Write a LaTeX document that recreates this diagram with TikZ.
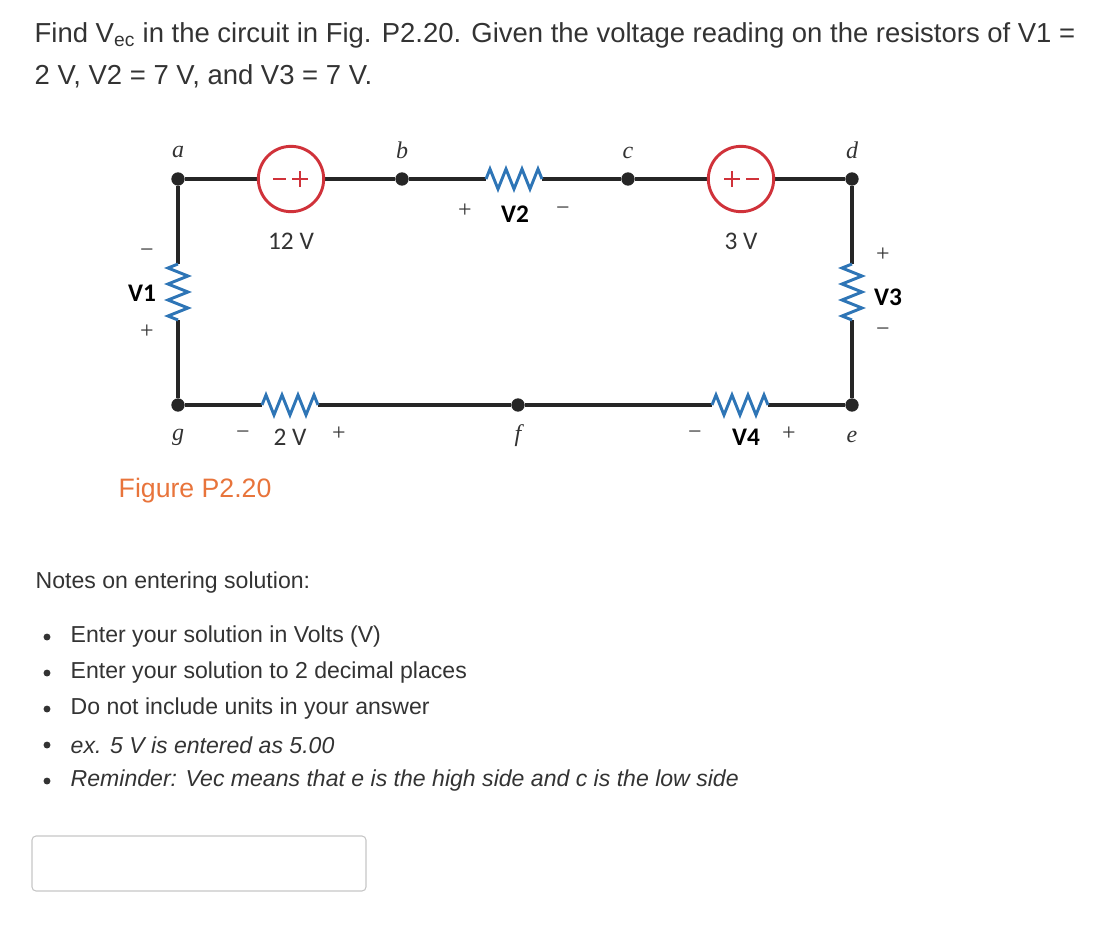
\documentclass[tikz,border=0pt]{standalone}
\usepackage{fontspec}
\setmainfont{Liberation Sans}
\newfontfamily\calib{Carlito}
\newfontfamily\serf{Liberation Serif}
\definecolor{wire}{HTML}{262626}
\definecolor{src}{HTML}{D0323A}
\definecolor{res}{HTML}{2E75B6}
\definecolor{fig}{HTML}{E8743B}
\definecolor{txt}{HTML}{333333}
\newcommand\myhres[1]{\draw[zig] (#1) -- ++(4,-10) -- ++(8,20) -- ++(8,-20) -- ++(8,20) -- ++(8,-20) -- ++(8,20) -- ++(8,-20) -- ++(4,10);}
\newcommand\myvres[1]{\draw[zig] (#1) -- ++(-10,4) -- ++(20,8) -- ++(-20,8) -- ++(20,8) -- ++(-20,8) -- ++(20,8) -- ++(-20,8) -- ++(10,4);}
\begin{document}
\begin{tikzpicture}[x=0.75pt,y=-0.75pt,
  wireline/.style={draw=wire,line width=2.6pt},
  dot/.style={circle,fill=wire,inner sep=0pt,minimum size=10pt},
  srcc/.style={circle,draw=src,line width=2.2pt,minimum size=49pt,inner sep=0pt,fill=white},
  zig/.style={draw=res,line width=2.2pt,line join=miter},
  lbl/.style={font=\serf\itshape\fontsize{18}{18}\selectfont,text=txt},
  clab/.style={font=\calib\fontsize{19}{19}\selectfont,text=txt},
  blab/.style={font=\calib\bfseries\fontsize{19}{19}\selectfont,text=black},
  pm/.style={font=\serf\fontsize{18}{18}\selectfont,text=txt},
  body/.style={anchor=west,font=\fontsize{17.3}{17.3}\selectfont,text=txt},
]
\useasboundingbox (0,0) rectangle (1108,926);
% title
\node[anchor=west,font=\fontsize{20.6}{20.6}\selectfont,text=txt] (t1) at (30,35) {Find V\textsubscript{ec} in the circuit in Fig. P2.20. Given the voltage reading on the resistors of V1 =};
\node[anchor=west,font=\fontsize{20.6}{20.6}\selectfont,text=txt] (t2) at (30,76) {2 V, V2 = 7 V, and V3 = 7 V.};
% nodes
\node[dot] (a) at (178,179) {};
\node[dot] (b) at (402,179) {};
\node[dot] (c) at (628,179) {};
\node[dot] (d) at (852,179) {};
\node[dot] (g) at (178,405) {};
\node[dot] (f) at (518,405) {};
\node[dot] (e) at (852,405) {};
\coordinate (r2a) at (486,179); \coordinate (r2b) at (542,179);
\coordinate (r1a) at (178,264); \coordinate (r1b) at (178,320);
\coordinate (r3a) at (852,264); \coordinate (r3b) at (852,320);
\coordinate (r5a) at (262,405); \coordinate (r5b) at (318,405);
\coordinate (r4a) at (712,405); \coordinate (r4b) at (768,405);
% wires
\draw[wireline] (a) -- (b) -- (r2a) (r2b) -- (c) -- (d) -- (r3a) (r3b) -- (e) -- (r4b) (r4a) -- (f) -- (r5b) (r5a) -- (g) -- (r1b) (r1a) -- (a);
% resistors
\myhres{r2a}
\myhres{r5a}
\myhres{r4a}
\myvres{r1a}
\myvres{r3a}
% sources
\node[srcc] (s12) at (291,179) {};
\draw[src,line width=1.6pt] (273,179) -- (286,179) (292,179) -- (308,179) (300,171) -- (300,187);
\node[srcc] (s3) at (741,179) {};
\draw[src,line width=1.6pt] (724,179) -- (740,179) (732,171) -- (732,187) (746,179) -- (759,179);
% labels
\node[lbl] (la) at (178,152) {a};
\node[lbl] (lb) at (402,150) {b};
\node[lbl] (lc) at (628,153) {c};
\node[lbl] (ld) at (852,150) {d};
\node[lbl] (lg) at (178,437) {g};
\node[lbl] (lf) at (518,436) {f};
\node[lbl] (le) at (852,437) {e};
\node[clab] (v12) at (291,241) {12 V};
\node[clab] (v3) at (741,241) {3 V};
\node[pm] at (465,211) {+};
\node[blab] (lv2) at (515,214) {V2};
\node[pm] at (563,211) {\textminus};
\node[pm] at (147,253) {\textminus};
\node[blab] (lv1) at (142,293) {V1};
\node[pm] at (147,332) {+};
\node[pm] at (883,255) {+};
\node[blab] (lv3) at (888,297) {V3};
\node[pm] at (883,332) {\textminus};
\node[pm] at (243,435) {\textminus};
\node[clab] (v2v) at (290,437) {2 V};
\node[pm] at (339,434) {+};
\node[pm] at (695,435) {\textminus};
\node[blab] (lv4) at (746,437) {V4};
\node[pm] at (789,434) {+};
\node[anchor=west,font=\fontsize{20}{20}\selectfont,text=fig] (figl) at (114,491) {Figure P2.20};
% notes
\node[body] (n0) at (31,583) {Notes on entering solution:};
\foreach \y/\t in {637/{Enter your solution in Volts (V)},673/{Enter your solution to 2 decimal places},709/{Do not include units in your answer}}{
  \fill[txt] (47,\y) circle (2.6pt);
  \node[body] at (66,\y) {\t};}
\fill[txt] (47,745) circle (2.6pt);
\node[body,font=\fontsize{17.3}{17.3}\selectfont\itshape] (n4) at (66,745) {ex. 5 V is entered as 5.00};
\fill[txt] (47,781) circle (2.6pt);
\node[body,font=\fontsize{17.3}{17.3}\selectfont\itshape] (n5) at (66,781) {Reminder: Vec means that e is the high side and c is the low side};
\draw[draw=gray!45,line width=0.8pt,rounded corners=3pt] (32,836) rectangle (366,891);
\end{tikzpicture}
\end{document}
